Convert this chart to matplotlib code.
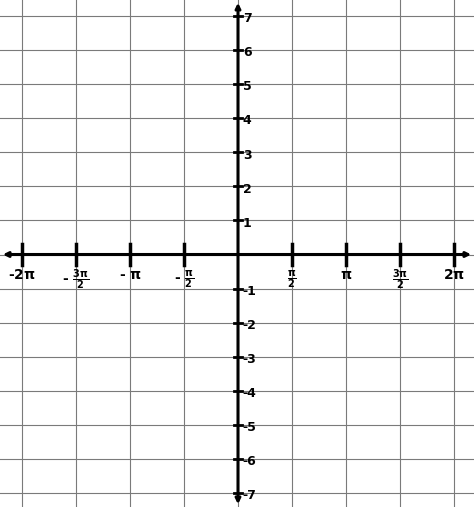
import numpy as np
import matplotlib
matplotlib.use("Agg")
import matplotlib.pyplot as plt

x_ticks = [-2*np.pi, -1.5*np.pi, -np.pi, -0.5*np.pi, 0.5*np.pi, np.pi, 1.5*np.pi, 2*np.pi]
x_labels = [r'-2$\mathbf{\pi}$', r'- $\mathbf{\frac{3\pi}{2}}$', r'- $\mathbf{\pi}$', r'- $\mathbf{\frac{\pi}{2}}$',
            r'$\mathbf{\frac{\pi}{2}}$', r'$\mathbf{\pi}$', r'$\mathbf{\frac{3\pi}{2}}$', r'2$\mathbf{\pi}$']
y_ticks = [-7, -6, -5, -4, -3, -2, -1, 1, 2, 3, 4, 5, 6, 7]
y_labels = [str(v) for v in y_ticks]

h = np.pi/2
fig = plt.figure(figsize=(4.74, 5.07), dpi=100)
ax = fig.add_axes([0, 0, 1, 1])
ax.set_xlim(-2*np.pi - 22/54*h, 2*np.pi + 20/54*h)
ax.set_ylim(-7 - 14/34, 7 + 16/34)
ax.set_xticks(np.arange(-4, 5) * h)
ax.set_yticks(np.arange(-7, 8))
ax.grid(True, color='#7a7a7a', linewidth=0.8)
ax.tick_params(length=0, labelbottom=False, labelleft=False)
for s in ax.spines.values():
    s.set_visible(False)

ax.annotate('', xy=(ax.get_xlim()[1], 0), xytext=(ax.get_xlim()[0], 0),
            arrowprops=dict(arrowstyle='<->', lw=2.2, color='black', mutation_scale=7))
ax.annotate('', xy=(0, ax.get_ylim()[1]), xytext=(0, ax.get_ylim()[0]),
            arrowprops=dict(arrowstyle='<->', lw=2.2, color='black', mutation_scale=7))

for xv, lab in zip(x_ticks, x_labels):
    ax.plot([xv, xv], [-0.3, 0.3], color='black', lw=2.5)
    ax.text(xv, -0.4, lab, ha='center', va='top', fontsize=10, fontweight='bold')
for yv, lab in zip(y_ticks, y_labels):
    ax.plot([-0.12, 0.12], [yv, yv], color='black', lw=2.0)
    ax.text(0.14, yv - 0.08, lab, ha='left', va='center', fontsize=9, fontweight='bold')

fig.savefig('out.png', dpi=100)
